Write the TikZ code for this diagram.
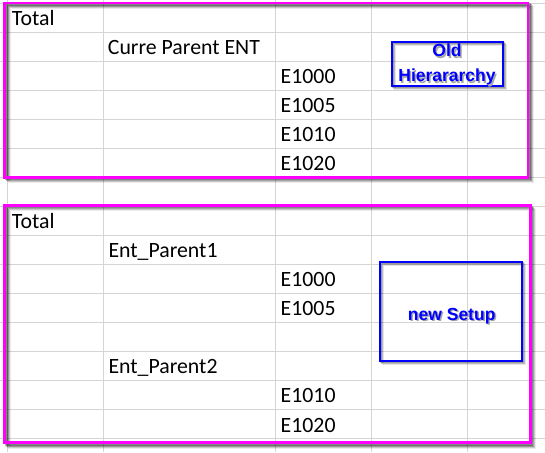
\documentclass[tikz,border=0pt]{standalone}
\usepackage{fontspec}
\setmainfont{Carlito}
\newfontfamily\arialfont{Liberation Sans}
\definecolor{gridc}{HTML}{D4D4D4}
\definecolor{mag}{HTML}{FF00FF}
\definecolor{blu}{HTML}{0000FF}
\begin{document}
\begin{tikzpicture}[x=1pt,y=-1pt,
  cell/.style={anchor=base west,inner sep=0pt,font=\fontsize{21.8}{26}\selectfont},
  gridline/.style={draw=gridc,line width=1pt},
  magbox/.style={draw=mag,line width=2.6pt},
  blubox/.style={draw=blu,line width=1.8pt},
  bluetext/.style={anchor=base,inner sep=0pt,text=blu,font=\arialfont\bfseries\fontsize{17.5}{20}\selectfont},
  shadowtext/.style={anchor=base,inner sep=0pt,text=black!35,font=\arialfont\bfseries\fontsize{17.5}{20}\selectfont}
  ]
\useasboundingbox (0,0) rectangle (545,452);
\fill[white] (0,0) rectangle (545,452);
% grid
\foreach \yy in {3.3,32.3,61.3,90.3,119.3,148.3,177.3,206,235.1,264.2,293.3,322.4,351.5,380.6,409.7,438.8}
  \draw[gridline] (0,\yy) -- (545,\yy);
\foreach \xx in {7,103.3,275.6,371,467.3}
  \draw[gridline] (\xx,0) -- (\xx,452);
% magenta boxes with shadows
\foreach \o/\op in {4.5/0.08,3.5/0.15,2.5/0.25,1.5/0.3}{
  \draw[black,opacity=\op,line width=2.6pt] (4.7+\o,3+\o) rectangle (528+\o,177.5+\o);
  \draw[black,opacity=\op,line width=2.6pt] (4.7+\o,205.5+\o) rectangle (530.5+\o,442.7+\o);
}
\draw[magbox] (4.7,3) rectangle (528,177.5);
\draw[magbox] (4.7,205.5) rectangle (530.5,442.7);
% first block texts
\node[cell] (tot1) at (11.7,25.3) {Total};
\node[cell] (cpe) at (107.7,54.3) {Curre Parent ENT};
\node[cell] (a1000) at (280.5,83) {E1000};
\node[cell] (a1005) at (280.5,112.3) {E1005};
\node[cell] (a1010) at (280.5,141.3) {E1010};
\node[cell] (a1020) at (280.5,170.1) {E1020};
% second block texts
\node[cell] (tot2) at (11.7,228.3) {Total};
\node[cell] (ep1) at (108.3,257.4) {Ent\_Parent1};
\node[cell] (b1000) at (280.5,286.5) {E1000};
\node[cell] (b1005) at (280.5,315.6) {E1005};
\node[cell] (ep2) at (108.3,373.8) {Ent\_Parent2};
\node[cell] (b1010) at (280.5,402.9) {E1010};
\node[cell] (b1020) at (280.5,432) {E1020};
% blue boxes
\foreach \o/\op in {3/0.1,2/0.18,1.2/0.25}{
  \draw[black,opacity=\op,line width=1.8pt] (392+\o,42+\o) rectangle (503+\o,86+\o);
  \draw[black,opacity=\op,line width=1.8pt] (380+\o,262+\o) rectangle (522+\o,361+\o);
}
\draw[blubox] (392,42) rectangle (503,86);
\draw[blubox] (380,262) rectangle (522,361);
\node[shadowtext] (olds) at (448.5,58.2) {Old};
\node[shadowtext] (hiers) at (448.5,83.2) {Hierararchy};
\node[bluetext] (old) at (447,56.7) {Old};
\node[bluetext] (hier) at (447,81.7) {Hierararchy};
\node[shadowtext] (news) at (453.2,321.5) {new Setup};
\node[bluetext] (new) at (451.7,320) {new Setup};
\end{tikzpicture}
\end{document}
